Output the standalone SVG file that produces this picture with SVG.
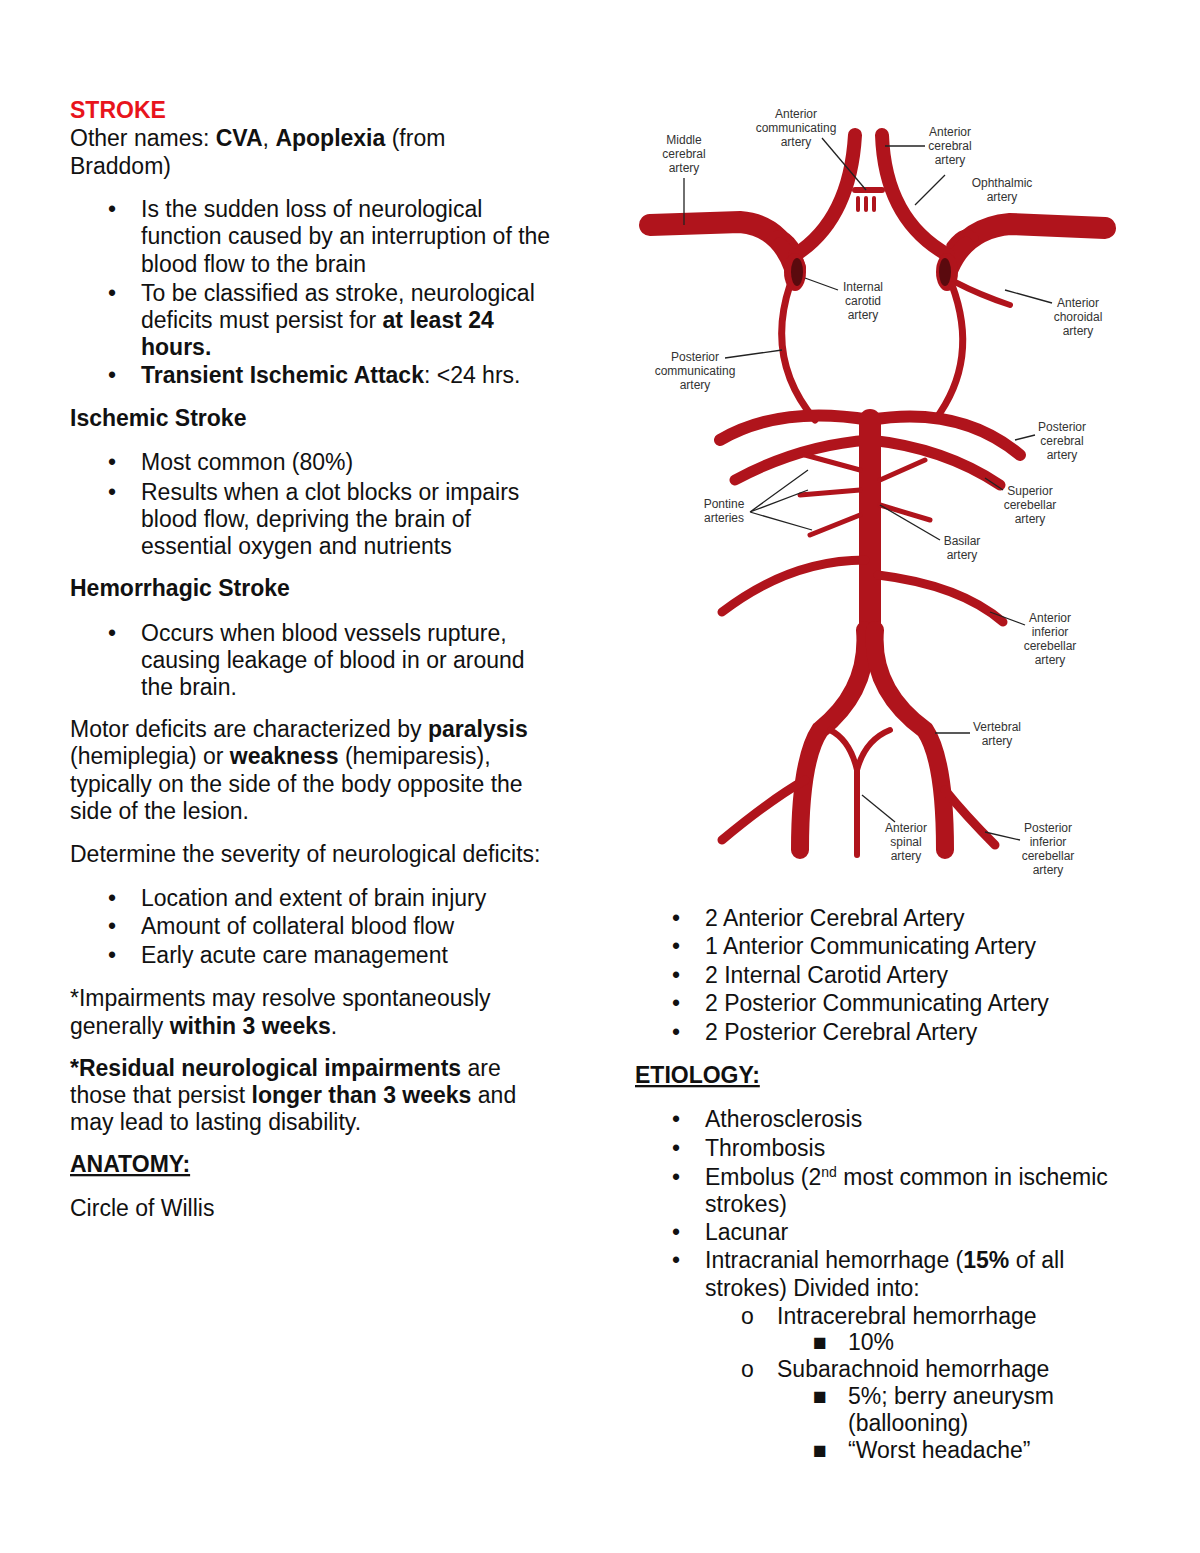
<svg xmlns="http://www.w3.org/2000/svg" width="1200" height="1553" viewBox="0 0 1200 1553">
<style>
text{font-family:"Liberation Sans",Arial,sans-serif;font-size:23px;fill:#111}
.b{font-weight:bold}
.r{fill:#e8141c;font-weight:bold}
.u{text-decoration:underline;font-weight:bold}
.lb{font-size:12px;fill:#333;text-anchor:middle}
.a{fill:none;stroke:#b0141c;stroke-linecap:round}
.l{stroke:#222;stroke-width:1.3;fill:none}
</style>
<rect width="1200" height="1553" fill="#fff"/>
<g id="left-text">
<text x="70" y="118" class="r">STROKE</text>
<text x="70" y="146">Other names: <tspan class="b">CVA</tspan>, <tspan class="b">Apoplexia</tspan> (from</text>
<text x="70" y="174">Braddom)</text>
<text x="108" y="217">•</text><text x="141" y="217">Is the sudden loss of neurological</text>
<text x="141" y="244">function caused by an interruption of the</text>
<text x="141" y="272">blood flow to the brain</text>
<text x="108" y="301">•</text><text x="141" y="301">To be classified as stroke, neurological</text>
<text x="141" y="328">deficits must persist for <tspan class="b">at least 24</tspan></text>
<text x="141" y="355" class="b">hours.</text>
<text x="108" y="383">•</text><text x="141" y="383"><tspan class="b">Transient Ischemic Attack</tspan>: &lt;24 hrs.</text>
<text x="70" y="426" class="b">Ischemic Stroke</text>
<text x="108" y="470">•</text><text x="141" y="470">Most common (80%)</text>
<text x="108" y="500">•</text><text x="141" y="500">Results when a clot blocks or impairs</text>
<text x="141" y="527">blood flow, depriving the brain of</text>
<text x="141" y="554">essential oxygen and nutrients</text>
<text x="70" y="596" class="b">Hemorrhagic Stroke</text>
<text x="108" y="641">•</text><text x="141" y="641">Occurs when blood vessels rupture,</text>
<text x="141" y="668">causing leakage of blood in or around</text>
<text x="141" y="695">the brain.</text>
<text x="70" y="737">Motor deficits are characterized by <tspan class="b">paralysis</tspan></text>
<text x="70" y="764">(hemiplegia) or <tspan class="b">weakness</tspan> (hemiparesis),</text>
<text x="70" y="792">typically on the side of the body opposite the</text>
<text x="70" y="819">side of the lesion.</text>
<text x="70" y="862">Determine the severity of neurological deficits:</text>
<text x="108" y="906">•</text><text x="141" y="906">Location and extent of brain injury</text>
<text x="108" y="934">•</text><text x="141" y="934">Amount of collateral blood flow</text>
<text x="108" y="963">•</text><text x="141" y="963">Early acute care management</text>
<text x="70" y="1006">*Impairments may resolve spontaneously</text>
<text x="70" y="1034">generally <tspan class="b">within 3 weeks</tspan>.</text>
<text x="70" y="1076"><tspan class="b">*Residual neurological impairments</tspan> are</text>
<text x="70" y="1103">those that persist <tspan class="b">longer than 3 weeks</tspan> and</text>
<text x="70" y="1130">may lead to lasting disability.</text>
<text x="70" y="1172" class="u">ANATOMY:</text>
<text x="70" y="1216">Circle of Willis</text>
</g>
<g id="right-text">
<text x="672" y="926">•</text><text x="705" y="926">2 Anterior Cerebral Artery</text>
<text x="672" y="954">•</text><text x="705" y="954">1 Anterior Communicating Artery</text>
<text x="672" y="983">•</text><text x="705" y="983">2 Internal Carotid Artery</text>
<text x="672" y="1011">•</text><text x="705" y="1011">2 Posterior Communicating Artery</text>
<text x="672" y="1040">•</text><text x="705" y="1040">2 Posterior Cerebral Artery</text>
<text x="635" y="1083" class="u">ETIOLOGY:</text>
<text x="672" y="1127">•</text><text x="705" y="1127">Atherosclerosis</text>
<text x="672" y="1156">•</text><text x="705" y="1156">Thrombosis</text>
<text x="672" y="1185">•</text><text x="705" y="1185">Embolus (2<tspan dy="-8" font-size="14">nd</tspan><tspan dy="8"> most common in ischemic</tspan></text>
<text x="705" y="1212">strokes)</text>
<text x="672" y="1240">•</text><text x="705" y="1240">Lacunar</text>
<text x="672" y="1268">•</text><text x="705" y="1268">Intracranial hemorrhage (<tspan class="b">15%</tspan> of all</text>
<text x="705" y="1296">strokes) Divided into:</text>
<text x="741" y="1324">o</text><text x="777" y="1324">Intracerebral hemorrhage</text>
<text x="813" y="1350" font-size="14">■</text><text x="848" y="1350">10%</text>
<text x="741" y="1377">o</text><text x="777" y="1377">Subarachnoid hemorrhage</text>
<text x="813" y="1404" font-size="14">■</text><text x="848" y="1404">5%; berry aneurysm</text>
<text x="848" y="1431">(ballooning)</text>
<text x="813" y="1458" font-size="14">■</text><text x="848" y="1458">“Worst headache”</text>
</g>
<g id="arteries">
<path class="a" stroke-width="22" d="M650 225 L740 222 Q780 225 795 268"/>
<path class="a" stroke-width="22" d="M1105 228 L1010 224 Q965 228 948 268"/>
<path class="a" stroke-width="14" d="M795 255 Q850 220 855 135"/>
<path class="a" stroke-width="14" d="M948 255 Q885 220 882 135"/>
<path class="a" stroke-width="6" d="M855 190 L882 190"/>
<path class="a" stroke-width="4" d="M858 198v12M866 198v12M874 198v12"/>
<path class="a" stroke-width="7" d="M795 245 Q780 225 770 240"/>
<path class="a" stroke-width="7" d="M950 245 Q965 225 975 238"/>
<path class="a" stroke-width="6" d="M955 282 Q980 295 1010 305"/>
<ellipse cx="795" cy="272" rx="11" ry="19" fill="#b0141c"/><ellipse cx="797" cy="272" rx="6" ry="14" fill="#5a0a0e"/>
<ellipse cx="947" cy="272" rx="11" ry="19" fill="#b0141c"/><ellipse cx="945" cy="272" rx="6" ry="14" fill="#5a0a0e"/>
<path class="a" stroke-width="7" d="M790 285 Q765 360 815 420"/>
<path class="a" stroke-width="7" d="M952 285 Q980 360 935 420"/>
<path class="a" stroke-width="12" d="M720 440 Q780 405 870 420 Q960 405 1020 455"/>
<path class="a" stroke-width="11" d="M735 480 Q800 445 870 440 Q945 448 1000 485"/>
<path class="a" stroke-width="22" d="M870 420 L870 640"/>
<path class="a" stroke-width="5" d="M860 470 L805 455 M860 490 L800 495 M860 515 L810 535 M880 480 L925 460 M880 505 L930 520"/>
<path class="a" stroke-width="9" d="M865 560 Q790 560 722 612"/>
<path class="a" stroke-width="9" d="M878 575 Q960 585 1003 622"/>
<path class="a" stroke-width="18" d="M865 630 Q870 690 820 730 Q800 760 800 850"/>
<path class="a" stroke-width="18" d="M875 630 Q870 690 925 730 Q945 760 945 850"/>
<path class="a" stroke-width="9" d="M805 780 Q770 800 722 840"/>
<path class="a" stroke-width="9" d="M945 790 Q965 815 995 845"/>
<path class="a" stroke-width="6" d="M830 730 Q850 740 857 770 Q865 740 890 730 M857 770 L857 855"/>
</g>
<g id="labels">
<text class="lb" x="684" y="144">Middle</text><text class="lb" x="684" y="158">cerebral</text><text class="lb" x="684" y="172">artery</text>
<path class="l" d="M684 178 L684 225"/>
<text class="lb" x="796" y="118">Anterior</text><text class="lb" x="796" y="132">communicating</text><text class="lb" x="796" y="146">artery</text>
<path class="l" d="M822 138 L866 190"/>
<text class="lb" x="950" y="136">Anterior</text><text class="lb" x="950" y="150">cerebral</text><text class="lb" x="950" y="164">artery</text>
<path class="l" d="M925 146 L885 146"/>
<text class="lb" x="1002" y="187">Ophthalmic</text><text class="lb" x="1002" y="201">artery</text>
<path class="l" d="M945 175 L915 205"/>
<text class="lb" x="863" y="291">Internal</text><text class="lb" x="863" y="305">carotid</text><text class="lb" x="863" y="319">artery</text>
<path class="l" d="M838 290 L805 278"/>
<text class="lb" x="1078" y="307">Anterior</text><text class="lb" x="1078" y="321">choroidal</text><text class="lb" x="1078" y="335">artery</text>
<path class="l" d="M1052 303 L1005 290"/>
<text class="lb" x="695" y="361">Posterior</text><text class="lb" x="695" y="375">communicating</text><text class="lb" x="695" y="389">artery</text>
<path class="l" d="M725 358 L782 350"/>
<text class="lb" x="1062" y="431">Posterior</text><text class="lb" x="1062" y="445">cerebral</text><text class="lb" x="1062" y="459">artery</text>
<path class="l" d="M1035 435 L1015 440"/>
<text class="lb" x="1030" y="495">Superior</text><text class="lb" x="1030" y="509">cerebellar</text><text class="lb" x="1030" y="523">artery</text>
<path class="l" d="M1003 490 L985 478"/>
<text class="lb" x="724" y="508">Pontine</text><text class="lb" x="724" y="522">arteries</text>
<path class="l" d="M750 512 L808 470 M750 512 L808 490 M750 512 L812 530"/>
<text class="lb" x="962" y="545">Basilar</text><text class="lb" x="962" y="559">artery</text>
<path class="l" d="M940 540 L880 505"/>
<text class="lb" x="1050" y="622">Anterior</text><text class="lb" x="1050" y="636">inferior</text><text class="lb" x="1050" y="650">cerebellar</text><text class="lb" x="1050" y="664">artery</text>
<path class="l" d="M1025 625 L990 612"/>
<text class="lb" x="997" y="731">Vertebral</text><text class="lb" x="997" y="745">artery</text>
<path class="l" d="M970 733 L935 733"/>
<text class="lb" x="906" y="832">Anterior</text><text class="lb" x="906" y="846">spinal</text><text class="lb" x="906" y="860">artery</text>
<path class="l" d="M895 822 L862 795"/>
<text class="lb" x="1048" y="832">Posterior</text><text class="lb" x="1048" y="846">inferior</text><text class="lb" x="1048" y="860">cerebellar</text><text class="lb" x="1048" y="874">artery</text>
<path class="l" d="M1020 840 L985 832"/>
</g>
</svg>
